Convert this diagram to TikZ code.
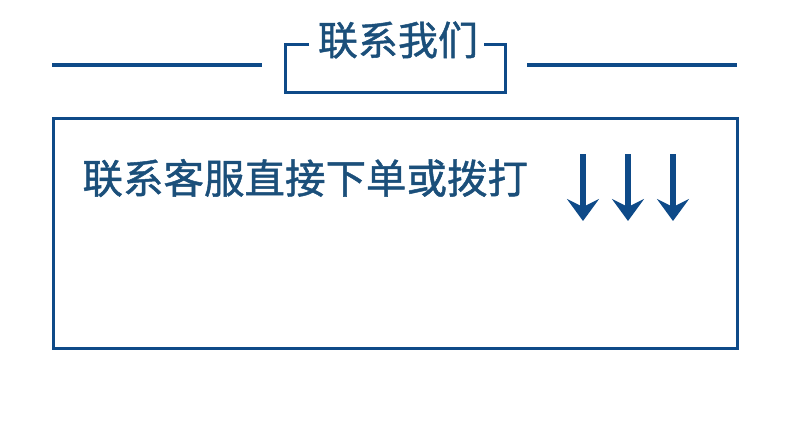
\documentclass[tikz,border=0pt]{standalone}
\usepackage{fontspec}
\newfontfamily\cjk{Noto Sans CJK SC}[FakeBold=1.2]
\usetikzlibrary{arrows.meta}
\definecolor{navy}{HTML}{0E4A88}
\definecolor{tnavy}{HTML}{1B4F7A}
\tikzset{ln/.style={navy,line width=3.5pt},
 arr/.style={navy,line width=6pt,-{Stealth[length=22pt,width=32pt,inset=8pt]}}}
\begin{document}
\begin{tikzpicture}[x=1pt,y=-1pt]
\useasboundingbox (0,0) rectangle (790,429);
\coordinate (l1) at (52,65); \coordinate (l2) at (262,65);
\coordinate (r1) at (527,65); \coordinate (r2) at (737,65);
\draw[ln] (l1) -- (l2);
\draw[ln] (r1) -- (r2);
\draw[navy,line width=3pt] (309,44) -- (285,44) -- (285,92) -- (505,92) -- (505,44) -- (484,44);
\node[tnavy,font=\cjk\fontsize{40}{40}\selectfont] (t) at (398,40) {联系我们};
\draw[navy,line width=3pt] (53,118) rectangle (737,348);
\node[tnavy,anchor=west,font=\cjk\fontsize{40.5}{40}\selectfont] (m) at (79,178) {联系客服直接下单或拨打};
\foreach \x [count=\i] in {583,628,673}{
 \coordinate (a\i) at (\x,154); \coordinate (b\i) at (\x,221);
 \draw[arr] (a\i) -- (b\i);}
\end{tikzpicture}
\end{document}
